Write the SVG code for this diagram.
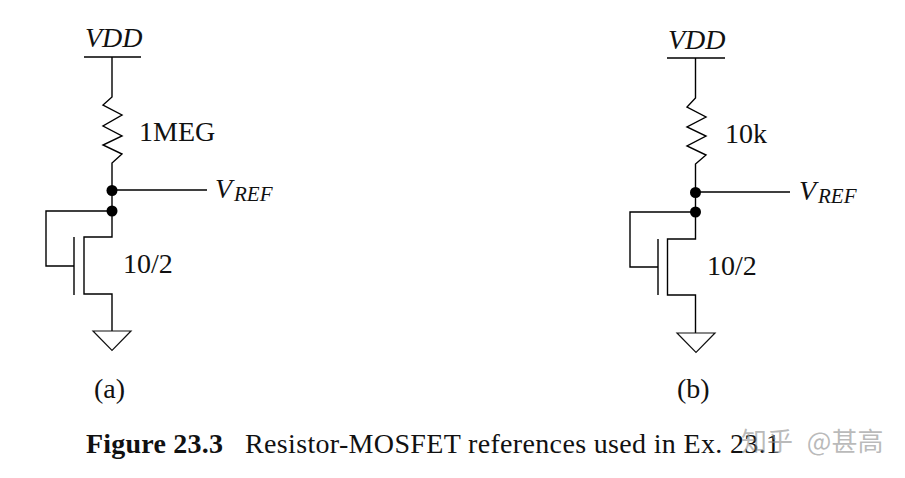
<svg xmlns="http://www.w3.org/2000/svg" width="905" height="478" viewBox="0 0 905 478">
<style>
.w{fill:none;stroke:#000;stroke-width:1.4}
.r{fill:none;stroke:#111;stroke-width:1.2;stroke-linejoin:miter}
.d{fill:#000}
text{font-family:"Liberation Serif","Times New Roman",serif;fill:#111}
.i{font-style:italic}
.s{font-size:28px}
.l{font-size:28px}
.sub{font-size:21px;font-style:italic}
.wm{font-family:"Noto Sans CJK SC","Noto Sans",sans-serif;font-size:26px;fill:#8c8c8c;fill-opacity:.6;word-spacing:8px}
</style>
<defs>
<g id="gnd"><path class="r" d="M-19 0H19L0 19.500Z"/></g>
</defs>
<rect width="905" height="478" fill="#fff"/>
<g id="connectors">
<path class="w" d="M84 57H141M112 57V97L103 105L122 115L103 126L122 136L103 145L122 154L112 163V190H207M112 211H46V266H74M74 237V295M112 190V237H84V294H112V331"/>
<path class="w" d="M667 58H725M695.500 58V98L687 107L706 117L687 127L706 136L687 146L706 155L695.500 164V192H790M695.500 212H630V267H658M658 239V295M695.500 192V239H667.500V295H695.500V333"/>
</g>
<g id="left-circuit">
<text class="s i" x="85" y="47">VDD</text>
<text class="l" x="139" y="141">1MEG</text>
<text class="s i" x="215" y="198">V</text><text class="sub" x="234" y="201">REF</text>
<text class="l" x="123" y="273">10/2</text>
<text class="l" x="94" y="398">(a)</text>
<circle class="d" cx="112" cy="190.500" r="5.500"/>
<circle class="d" cx="112" cy="211" r="5.500"/>
<use href="#gnd" x="112" y="331"/>
</g>
<g id="right-circuit">
<text class="s i" x="668" y="49">VDD</text>
<text class="l" x="725" y="143">10k</text>
<text class="s i" x="799" y="200">V</text><text class="sub" x="818" y="203">REF</text>
<text class="l" x="707" y="275">10/2</text>
<text class="l" x="677" y="398">(b)</text>
<circle class="d" cx="695.500" cy="192.500" r="5.500"/>
<circle class="d" cx="695.500" cy="212" r="5.500"/>
<use href="#gnd" x="696" y="333"/>
</g>
<g id="caption">
<text x="86" y="453" font-size="28" font-weight="bold" textLength="137" lengthAdjust="spacing">Figure 23.3</text>
<text x="245" y="453" font-size="28" textLength="535" lengthAdjust="spacing">Resistor-MOSFET references used in Ex. 23.1</text>
</g>
<g id="watermark">
<text class="wm" x="741" y="451">知乎 @甚高</text>
</g>
</svg>
